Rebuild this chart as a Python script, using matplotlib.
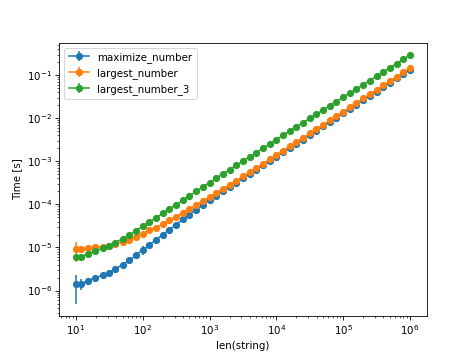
import numpy as np
import matplotlib
matplotlib.use("Agg")
import matplotlib.pyplot as plt

# string lengths (logspace 10 .. 1e6, 51 points, as ints)
lengths = [10, 12, 15, 19, 25, 31, 39, 50, 63, 79,
           100, 125, 158, 199, 251, 316, 398, 501, 630, 794,
           1000, 1258, 1584, 1995, 2511, 3162, 3981, 5011, 6309, 7943,
           10000, 12589, 15848, 19952, 25118, 31622, 39810, 50118, 63095, 79432,
           100000, 125892, 158489, 199526, 251188, 316227, 398107, 501187, 630957, 794328,
           1000000]

# mean times [s]
maximize_number = [1.40e-6, 1.42e-6, 1.70e-6, 1.95e-6, 2.25e-6, 2.6e-6, 3.2e-6, 4.0e-6, 5.0e-6, 6.6e-6,
                   8.8e-6, 1.15e-5, 1.5e-5, 2.0e-5, 2.6e-5, 3.4e-5, 4.5e-5, 5.8e-5, 7.5e-5, 9.7e-5,
                   1.25e-4, 1.6e-4, 2.0e-4, 2.55e-4, 3.2e-4, 4.0e-4, 5.05e-4, 6.35e-4, 8.0e-4, 1.0e-3,
                   1.27e-3, 1.61e-3, 2.02e-3, 2.55e-3, 3.2e-3, 4.05e-3, 5.1e-3, 6.45e-3, 8.1e-3, 1.03e-2,
                   1.3e-2, 1.64e-2, 2.07e-2, 2.61e-2, 3.28e-2, 4.14e-2, 5.23e-2, 6.64e-2, 8.37e-2, 0.106,
                   0.135]
largest_number = [9.2e-6, 9.3e-6, 9.5e-6, 1.0e-5, 1.05e-5, 1.1e-5, 1.2e-5, 1.35e-5, 1.5e-5, 1.75e-5,
                  2.1e-5, 2.5e-5, 2.9e-5, 3.5e-5, 4.3e-5, 5.2e-5, 6.4e-5, 7.9e-5, 9.7e-5, 1.2e-4,
                  1.5e-4, 1.85e-4, 2.3e-4, 2.85e-4, 3.55e-4, 4.45e-4, 5.6e-4, 7.0e-4, 8.8e-4, 1.11e-3,
                  1.4e-3, 1.77e-3, 2.22e-3, 2.8e-3, 3.52e-3, 4.45e-3, 5.6e-3, 7.1e-3, 8.9e-3, 1.13e-2,
                  1.43e-2, 1.8e-2, 2.27e-2, 2.87e-2, 3.6e-2, 4.55e-2, 5.75e-2, 7.3e-2, 9.2e-2, 0.117,
                  0.148]
largest_number_3 = [5.9e-6, 6.1e-6, 7.0e-6, 8.2e-6, 9.5e-6, 1.1e-5, 1.3e-5, 1.6e-5, 1.95e-5, 2.45e-5,
                    3.1e-5, 3.9e-5, 4.9e-5, 6.2e-5, 7.8e-5, 9.9e-5, 1.25e-4, 1.6e-4, 2.0e-4, 2.55e-4,
                    3.2e-4, 4.05e-4, 5.1e-4, 6.4e-4, 8.05e-4, 1.01e-3, 1.27e-3, 1.6e-3, 2.0e-3, 2.52e-3,
                    3.17e-3, 3.98e-3, 5.0e-3, 6.3e-3, 7.9e-3, 9.9e-3, 1.24e-2, 1.55e-2, 1.95e-2, 2.44e-2,
                    3.05e-2, 3.83e-2, 4.8e-2, 6.0e-2, 7.5e-2, 9.4e-2, 0.118, 0.148, 0.186, 0.233,
                    0.293]

# std deviations [s] (only visible ones at small lengths)
maximize_err = [0.9e-6, 0.4e-6, 0.15e-6, 0.05e-6, 0.05e-6, 0.05e-6, 0.1e-6, 0.1e-6, 0.2e-6, 0.3e-6,
                2.0e-6] + [0.0] * 40
largest_err = [4.5e-6, 1.0e-6, 0.3e-6] + [0.0] * 48
largest_3_err = [0.3e-6, 0.2e-6, 0.2e-6] + [0.0] * 48

fig = plt.figure(figsize=(474 / 74, 355 / 74), dpi=74)
ax = fig.add_subplot(111)

ax.errorbar(lengths, maximize_number, yerr=maximize_err, marker="o", label="maximize_number")
ax.errorbar(lengths, largest_number, yerr=largest_err, marker="o", label="largest_number")
ax.errorbar(lengths, largest_number_3, yerr=largest_3_err, marker="o", label="largest_number_3")

ax.set_xscale("log")
ax.set_yscale("log")
ax.set_xlabel("len(string)")
ax.set_ylabel("Time [s]")
ax.legend(loc="upper left")

fig.savefig("out.png", dpi=74)
